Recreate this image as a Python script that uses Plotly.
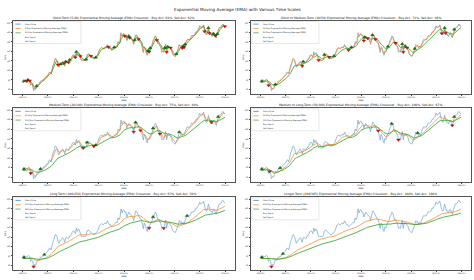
import numpy as np
import pandas as pd
import plotly.graph_objects as go
from plotly.subplots import make_subplots

# ---------------- data (weekly closes) ----------------
close_prices = [
    74.4, 77.6, 79.7, 79.6, 77.4, 80.0, 81.2, 78.3, 68.3, 72.3, 69.5, 57.3, 61.9,
    60.4, 67.0, 70.7, 70.7, 72.3, 77.5, 76.9, 79.7, 79.5, 82.9, 84.7, 87.4, 88.4,
    91.0, 95.9, 96.3, 92.6, 106.3, 111.1, 114.9, 124.4, 124.8, 120.9, 112.0, 106.8,
    112.3, 113.0, 117.0, 119.0, 115.0, 108.9, 118.7, 119.3, 117.3, 116.6, 122.3,
    122.4, 126.7, 131.97,
    132.7, 132.05, 127.1, 139.1, 132.0, 136.8, 135.4, 129.9, 121.3, 121.4, 121.0,
    120.0, 121.2, 123.0, 133.0, 134.2, 134.3, 131.5, 130.2, 127.45, 125.4, 124.6,
    125.9, 127.35, 130.5, 133.1, 140.0, 145.1, 146.4, 148.6, 145.9, 146.1, 149.1,
    148.2, 148.6, 154.3, 149.0, 146.1, 146.9, 142.65, 142.9, 144.8, 148.7, 149.8,
    151.3, 150.0, 160.55, 156.8, 161.8, 179.45, 171.1, 176.3, 177.6,
    172.2, 173.1, 162.4, 170.3, 172.4, 168.6, 167.3, 164.85, 163.2, 154.7, 163.98,
    174.7, 174.3, 170.1, 165.3, 161.8, 157.65, 157.3, 147.1, 137.6, 149.6, 145.4,
    137.1, 131.56, 141.7, 138.9, 147.0, 150.2, 154.1, 162.5, 165.35, 172.1, 171.5,
    163.6, 155.8, 157.4, 150.7, 150.4, 138.2, 140.1, 138.4, 147.3, 155.7, 138.4,
    149.7, 151.3, 148.1, 147.8, 142.2, 134.5, 131.9, 129.9,
    129.6, 134.8, 137.9, 145.9, 154.5, 151.0, 152.55, 146.7, 151.0, 148.5, 155.0,
    160.25, 164.9, 164.7, 165.2, 165.0, 169.7, 173.6, 172.6, 175.2, 175.4, 180.95,
    180.96, 184.9, 187.0, 193.97, 190.7, 190.7, 191.9, 195.8, 182.0, 177.8, 174.5,
    178.6, 189.5, 178.2, 175.0, 174.8, 171.2, 177.5, 178.85, 172.9, 168.2, 176.65,
    186.4, 189.7, 189.97, 191.2, 195.7, 197.6, 193.6, 192.5,
]
week_ending = pd.date_range("2020-01-03", periods=len(close_prices), freq="W-FRI")

panel_names = ["Short-Term", "Short to Medium-Term", "Medium-Term",
               "Medium to Long-Term", "Long-Term", "Longer-Term"]
short_windows = [5, 10, 20, 50, 100, 200]
long_windows = [20, 50, 100, 100, 250, 365]
buy_acc = [64, 71, 75, 100, 67, 100]
sell_acc = [62, 46, 40, 67, 50, 100]
x_tick_values = ["2020-01-01", "2020-07-01", "2021-01-01", "2021-07-01", "2022-01-01",
                 "2022-07-01", "2023-01-01", "2023-07-01", "2024-01-01"]
x_tick_labels = ["2020-01", "2020-07", "2021-01", "2021-07", "2022-01",
                 "2022-07", "2023-01", "2023-07", "2024-01"]

# ---------------- styling / layout ----------------
W, H = 474, 280
FONT = "DejaVu Sans"
C_PRICE, C_SHORT, C_LONG = "#1f77b4", "#ff7f0e", "#2ca02c"
col_px = [(12.7, 235.0), (250.7, 471.0)]
row_px = [(20.7, 94.0), (108.0, 182.0), (197.0, 270.0)]


def px_x(v):
    return v / W


def px_y(v):
    return 1 - v / H


price = pd.Series(close_prices, index=week_ending)


def ema_days(series, days):
    # N-trading-day EMA evaluated on weekly (5 trading day) samples
    alpha = 1 - (1 - 2 / (days + 1)) ** 5
    return series.ewm(alpha=alpha, adjust=False).mean()


fig = make_subplots(rows=3, cols=2)

t0, t1 = week_ending[0] - pd.Timedelta(days=1), week_ending[-1]
span = t1 - t0
x_range = [t0 - span * 0.05, t1 + span * 0.05]
lo, hi = min(close_prices), max(close_prices)
y_range = [lo - 0.05 * (hi - lo), hi + 0.05 * (hi - lo)]

annotations = []
shapes = []
for i in range(6):
    r, c = i // 2, i % 2
    sw, lw = short_windows[i], long_windows[i]
    s_ema = ema_days(price, sw)
    l_ema = ema_days(price, lw)
    sig = (s_ema > l_ema).astype(int)
    pos = sig.diff()
    buys = pos[pos == 1].index
    sells = pos[pos == -1].index

    fig.add_trace(go.Scatter(x=week_ending, y=price, mode="lines", name="Stock Price",
                             line=dict(color=C_PRICE, width=0.7), opacity=0.65,
                             showlegend=False), row=r + 1, col=c + 1)
    fig.add_trace(go.Scatter(x=week_ending, y=s_ema, mode="lines",
                             name=f"{sw}-Day Exponential Moving Average (EMA)",
                             line=dict(color=C_SHORT, width=0.7), showlegend=False),
                  row=r + 1, col=c + 1)
    fig.add_trace(go.Scatter(x=week_ending, y=l_ema, mode="lines",
                             name=f"{lw}-Day Exponential Moving Average (EMA)",
                             line=dict(color=C_LONG, width=0.8), showlegend=False),
                  row=r + 1, col=c + 1)
    fig.add_trace(go.Scatter(x=buys, y=price[buys], mode="markers", name="Buy Signal",
                             marker=dict(symbol="triangle-up", size=3.2, color="green",
                                         line=dict(width=0.3, color="#003300")),
                             showlegend=False), row=r + 1, col=c + 1)
    fig.add_trace(go.Scatter(x=sells, y=price[sells], mode="markers", name="Sell Signal",
                             marker=dict(symbol="triangle-down", size=3.2, color="red",
                                         line=dict(width=0.3, color="#330000")),
                             showlegend=False), row=r + 1, col=c + 1)

    x0, x1 = col_px[c]
    y0, y1 = row_px[r]
    ax = "" if i == 0 else str(i + 1)
    fig.layout["xaxis" + ax].update(
        domain=[px_x(x0), px_x(x1)], range=x_range, type="date",
        tickvals=x_tick_values, ticktext=x_tick_labels,
        tickfont=dict(size=1.9, family=FONT, color="#222"),
        ticks="outside", ticklen=1.2, tickwidth=0.4, tickcolor="#444",
        showline=True, mirror=True, linecolor="#555", linewidth=0.6,
        showgrid=False, zeroline=False,
        title=dict(text="Date", font=dict(size=2.2, family=FONT, color="#222"), standoff=0.5),
    )
    fig.layout["yaxis" + ax].update(
        domain=[px_y(y1), px_y(y0)], range=y_range, dtick=20, tick0=0,
        tickfont=dict(size=1.9, family=FONT, color="#222"),
        ticks="outside", ticklen=1.2, tickwidth=0.4, tickcolor="#444",
        showline=True, mirror=True, linecolor="#555", linewidth=0.6,
        showgrid=False, zeroline=False,
        title=dict(text="Price", font=dict(size=2.2, family=FONT, color="#222"), standoff=0.5),
    )

    # subplot title
    annotations.append(dict(
        text=f"{panel_names[i]} ({sw}/{lw}) Exponential Moving Average (EMA) Crossover - "
             f"Buy Acc: {buy_acc[i]}%, Sell Acc: {sell_acc[i]}%",
        x=px_x((x0 + x1) / 2), y=px_y(y0 - 2.6), xref="paper", yref="paper",
        xanchor="center", yanchor="middle", showarrow=False,
        font=dict(size=3.0, family=FONT, color="#111")))

    # legend box (drawn in paper space, matplotlib-like)
    lx0, ly0 = x0 + 1.2, y0 + 0.8
    lx1, ly1 = lx0 + 67, ly0 + 22
    shapes.append(dict(type="rect", xref="paper", yref="paper",
                       x0=px_x(lx0), x1=px_x(lx1), y0=px_y(ly1), y1=px_y(ly0),
                       line=dict(color="#d0d0d0", width=0.5), fillcolor="rgba(255,255,255,0.8)",
                       layer="above"))
    entries = [("Stock Price", C_PRICE),
               (f"{sw}-Day Exponential Moving Average (EMA)", C_SHORT),
               (f"{lw}-Day Exponential Moving Average (EMA)", C_LONG),
               ("Buy Signal", None), ("Sell Signal", None)]
    for k, (label, colr) in enumerate(entries):
        ey = ly0 + 2.6 + k * 4.35
        if colr:
            shapes.append(dict(type="line", xref="paper", yref="paper",
                               x0=px_x(lx0 + 1.5), x1=px_x(lx0 + 6.8),
                               y0=px_y(ey), y1=px_y(ey),
                               line=dict(color=colr, width=0.7), layer="above"))
        annotations.append(dict(text=label, x=px_x(lx0 + 8.6), y=px_y(ey),
                                xref="paper", yref="paper", xanchor="left",
                                yanchor="middle", showarrow=False,
                                font=dict(size=2.0, family=FONT, color="#222")))

annotations.append(dict(text="Exponential Moving Average (EMA) with Various Time Scales",
                        x=0.5, y=px_y(10), xref="paper", yref="paper", xanchor="center",
                        yanchor="middle", showarrow=False,
                        font=dict(size=4.2, family=FONT, color="#111")))

fig.update_layout(width=W, height=H, margin=dict(l=0, r=0, t=0, b=0),
                  paper_bgcolor="white", plot_bgcolor="white",
                  annotations=annotations, shapes=shapes, showlegend=False)

fig.write_html("out.html")
